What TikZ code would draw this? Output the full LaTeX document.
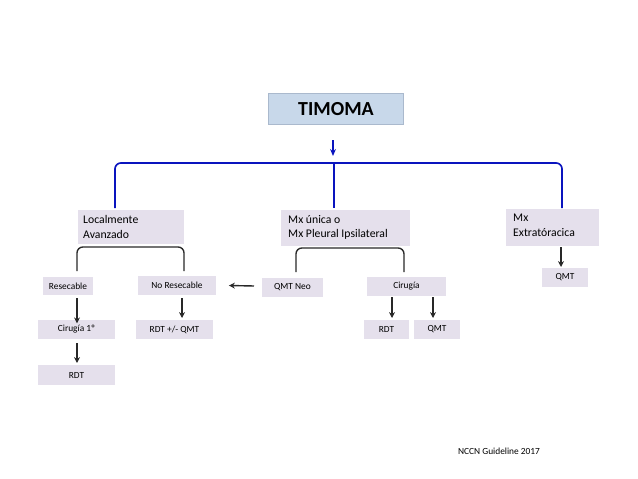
\documentclass[tikz,border=0pt]{standalone}
\usepackage{fontspec}
\setmainfont{Carlito}
\usetikzlibrary{arrows.meta}
\definecolor{BoxFill}{RGB}{229,224,236}
\definecolor{TopFill}{RGB}{200,216,234}
\definecolor{TopLine}{RGB}{170,185,205}
\definecolor{LineBlue}{RGB}{10,20,190}
\definecolor{LineDark}{RGB}{40,40,40}
\begin{document}
\begin{tikzpicture}[x=0.03cm,y=-0.03cm,
    box/.style={fill=BoxFill, inner sep=0pt, font=\fontsize{8}{9}\selectfont},
    lbl/.style={font=\fontsize{10}{12.5}\selectfont, align=left, anchor=north west, inner sep=0pt},
    blueline/.style={draw=LineBlue, line width=1.4pt, rounded corners=5pt},
    darkline/.style={draw=LineDark, line width=1.2pt, rounded corners=5pt},
    darr/.style={-{Stealth[length=5pt,width=5pt]}, draw=LineDark, line width=1.2pt}]
  \useasboundingbox (0,0) rectangle (638,479);
  % top
  \node[fill=TopFill, draw=TopLine, minimum width=136*0.85pt, minimum height=31*0.85pt,
        font=\fontsize{17}{20}\selectfont\bfseries] (timoma) at (336,109) {TIMOMA};
  \coordinate (ta) at (333,140);
  \coordinate (tb) at (333,156);
  \draw[-{Stealth[length=6pt,width=5pt]}, draw=LineBlue, line width=1.4pt] (ta) -- (tb);
  % second level
  \node[box, minimum width=106*0.85pt, minimum height=34*0.85pt] (loc) at (131,227) {};
  \node[lbl] at (83,215) {Localmente\\Avanzado};
  \node[box, minimum width=129*0.85pt, minimum height=36*0.85pt] (mxu) at (345.5,228) {};
  \node[lbl] at (288,215) {Mx única o\\Mx Pleural Ipsilateral};
  \node[box, minimum width=93*0.85pt, minimum height=37*0.85pt] (mxe) at (552.5,227.5) {};
  \node[lbl] at (513,214) {Mx\\Extratóracica};
  % blue bracket
  \draw[blueline] (115,208) -- (115,163) -- (562,163) -- (562,208);
  \draw[blueline] (334,163) -- (334,208);
  % third level
  \node[box, minimum width=50*0.85pt, minimum height=19*0.85pt] (res) at (68,286) {Resecable};
  \node[box, minimum width=78*0.85pt, minimum height=19*0.85pt] (nores) at (177,285.5) {No Resecable};
  \node[box, minimum width=61*0.85pt, minimum height=19*0.85pt] (neo) at (292.5,287.5) {QMT Neo};
  \node[box, minimum width=79*0.85pt, minimum height=19*0.85pt] (cir) at (406.5,286.5) {Cirugía};
  \node[box, minimum width=46*0.85pt, minimum height=19*0.85pt] (qmte) at (565,277.5) {QMT};
  % black brackets
  \draw[darkline] (77,271) -- (77,247) -- (184,247) -- (184,271);
  \draw[darkline] (296,272) -- (296,248) -- (404,248) -- (404,272);
  % fourth level
  \node[box, minimum width=77*0.85pt, minimum height=19*0.85pt] (cir1) at (76.5,329.5) {Cirugía 1º};
  \node[box, minimum width=77*0.85pt, minimum height=19*0.85pt] (rdtq) at (174.5,329.5) {RDT +/- QMT};
  \node[box, minimum width=45*0.85pt, minimum height=19*0.85pt] (rdt2) at (386.5,329.5) {RDT};
  \node[box, minimum width=46*0.85pt, minimum height=19*0.85pt] (qmt2) at (437,329.5) {QMT};
  \node[box, minimum width=77*0.85pt, minimum height=20*0.85pt] (rdt1) at (76.5,375) {RDT};
  % arrows
  \coordinate (neoend) at (254,286);
  \draw[darr] (neoend) -- ([xshift=11]nores.east);
  \draw[darr] (77,298) -- ([yshift=-3]cir1.north -| 77,0);
  \draw[darr] (77,343) -- (77,363);
  \draw[darr] (182,298) -- (182,318);
  \draw[darr] (392,297) -- (392,318);
  \draw[darr] (433,297) -- (433,318);
  \draw[darr] (561,247) -- (561,267);
  % footer
  \node[font=\fontsize{8}{9}\selectfont, anchor=west] (src) at (454,451) {NCCN Guideline 2017};
\end{tikzpicture}
\end{document}
